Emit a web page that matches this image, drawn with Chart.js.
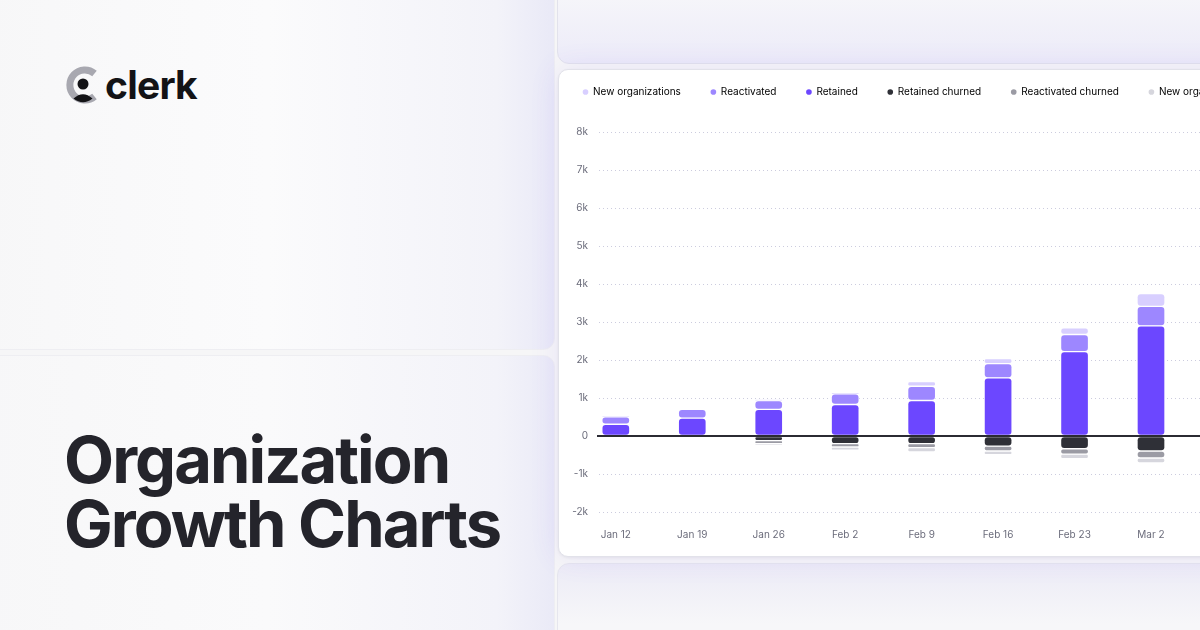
<!DOCTYPE html>
<html>
<head>
<meta charset="utf-8">
<script src="https://cdn.jsdelivr.net/npm/chart.js@4.4.1/dist/chart.umd.min.js"></script>
<style>
  html, body { margin: 0; padding: 0; }
  body {
    width: 1200px; height: 630px; overflow: hidden; position: relative;
    background: #f6f6f7; font-family: Inter, "Noto Sans", sans-serif;
  }
  .pane { position: absolute; border: 1px solid #eeeef2; border-radius: 12px; }
  .pane-a { left: -20px; top: -20px; width: 573px; height: 368px; background: linear-gradient(90deg, #f7f7f8 0%, #fbfbfc 50%, #f3f3f9 90%, #e9e9f7 100%); }
  .pane-b { left: -20px; top: 355px; width: 573px; height: 300px; background: linear-gradient(90deg, #f7f7f8 0%, #fafafb 50%, #f3f3f9 90%, #eaeaf7 100%); }
  .pane-c { left: 557px; top: -20px; width: 700px; height: 82px; background: linear-gradient(180deg, #f8f8fa 0%, #ecebf8 100%); border-color: #e2e2ec; }
  .pane-d { left: 557px; top: 563px; width: 700px; height: 100px; background: linear-gradient(180deg, #ecebf6 0%, #f7f7f9 60%); border-color: #e6e6ee; }
  .card {
    position: absolute; left: 558px; top: 69px; width: 760px; height: 486px;
    background: #fff; border: 1px solid #e2e2ea; border-radius: 10px;
    box-shadow: 0 0 30px rgba(108, 71, 255, 0.10), 0 1px 3px rgba(20, 20, 40, 0.06);
  }
  .chart-box { position: absolute; left: 553px; top: 57px; width: 900px; height: 495px; }
  .logo { position: absolute; left: 66px; top: 65px; display: flex; align-items: center; }
  .logo span { font-size: 39px; font-weight: 700; color: #131316; letter-spacing: -0.02em; margin-left: 5px; line-height: 1; }
  .title {
    position: absolute; left: 64px; top: 428px; margin: 0;
    font-size: 65px; font-weight: 700; line-height: 64px; letter-spacing: -0.03em; color: #24242b;
  }
</style>
</head>
<body>
<div class="pane pane-a"></div>
<div class="pane pane-b"></div>
<div class="pane pane-c"></div>
<div class="pane pane-d"></div>

<div class="logo">
  <svg width="34" height="38" viewBox="0 0 34 38">
    <path d="M28.5 7.5 A15 15 0 1 0 28.5 30.5" fill="none" stroke="#a8a8b0" stroke-width="7"/>
    <circle cx="17" cy="18" r="5.5" fill="#131316"/>
    <path d="M7.5 32.5 Q17 24 26.5 32.5 Q17 40 7.5 32.5 Z" fill="#131316"/>
  </svg>
  <span>clerk</span>
</div>

<h1 class="title">Organization<br>Growth Charts</h1>

<div class="card"></div>
<div class="chart-box"><canvas id="growth-chart"></canvas></div>

<script>
// semanas
const labels = ['Jan 12', 'Jan 19', 'Jan 26', 'Feb 2', 'Feb 9', 'Feb 16', 'Feb 23', 'Mar 2'];

// altas (stack positivo, de abajo hacia arriba)
const retained    = [310, 470, 700, 830, 935, 1530, 2220, 2900];
const reactivated = [195, 230, 235, 280, 375, 375, 450, 510];
const newOrgs     = [15, 0, 15, 20, 125, 130, 175, 335];

// bajas (stack negativo)
const retainedChurned    = [0, 0, -120, -200, -200, -265, -335, -395];
const reactivatedChurned = [0, 0, -80, -90, -105, -130, -140, -185];
const newOrgsChurned     = [0, 0, -25, -85, -115, -95, -120, -130];

// ticks eje y
const yTicks = [-2000, -1000, 0, 1000, 2000, 3000, 4000, 5000, 6000, 7000, 8000];

//colores
const colors = {
  retained: '#6c47ff',
  reactivated: '#9d87ff',
  newOrgs: '#d8cfff',
  retainedChurned: '#2f3037',
  reactivatedChurned: '#9b9ba4',
  newOrgsChurned: '#d6d6dd'
};

const toPoints = arr => arr.map((v, i) => ({ x: i, y: v }));

function barSet(label, data, color) {
  return {
    label: label,
    data: toPoints(data),
    backgroundColor: color,
    borderColor: '#ffffff',
    borderWidth: 1,
    borderSkipped: false,
    borderRadius: { topLeft: 4, topRight: 4, bottomLeft: 4, bottomRight: 4 },
    barThickness: 28
  };
}

const datasets = [
  barSet('Retained', retained, colors.retained),
  barSet('Reactivated', reactivated, colors.reactivated),
  barSet('New organizations', newOrgs, colors.newOrgs),
  barSet('Retained churned', retainedChurned, colors.retainedChurned),
  barSet('Reactivated churned', reactivatedChurned, colors.reactivatedChurned),
  barSet('New organizations churned', newOrgsChurned, colors.newOrgsChurned)
];

// orden de la leyenda
const legendOrder = [2, 1, 0, 3, 4, 5];

// linea del cero
const zeroLine = {
  id: 'zeroLine',
  afterDatasetsDraw(chart) {
    const y = chart.scales.y.getPixelForValue(0);
    const ctx = chart.ctx;
    ctx.save();
    ctx.strokeStyle = '#2b2b33';
    ctx.lineWidth = 2;
    ctx.beginPath();
    ctx.moveTo(chart.chartArea.left - 2, y);
    ctx.lineTo(chart.chartArea.right, y);
    ctx.stroke();
    ctx.restore();
  }
};

// espacio bajo la leyenda
const legendGap = {
  id: 'legendGap',
  beforeInit(chart) {
    const fit = chart.legend.fit;
    chart.legend.fit = function () {
      fit.bind(chart.legend)();
      this.height += 25;
    };
  }
};

const ctx = document.getElementById('growth-chart').getContext('2d');
const myChart = new Chart(ctx, {
  type: 'bar',
  data: { datasets: datasets },
  plugins: [zeroLine, legendGap],
  options: {
    responsive: true,
    maintainAspectRatio: false,
    animation: false,
    layout: { padding: 0 },
    plugins: {
      tooltip: { enabled: false },
      legend: {
        position: 'top',
        align: 'start',
        labels: {
          usePointStyle: true,
          boxWidth: 5,
          boxHeight: 4,
          padding: 30,
          color: '#5f6070',
          font: { family: 'Inter', size: 10 },
          generateLabels(chart) {
            return legendOrder.map(i => ({
              text: chart.data.datasets[i].label,
              fillStyle: chart.data.datasets[i].backgroundColor,
              strokeStyle: chart.data.datasets[i].backgroundColor,
              lineWidth: 0,
              pointStyle: 'circle',
              datasetIndex: i
            }));
          }
        }
      }
    },
    scales: {
      x: {
        type: 'linear',
        stacked: true,
        offset: false,
        min: -0.22,
        max: 10.95,
        grid: { display: false, drawTicks: false },
        border: { display: false },
        afterBuildTicks(scale) {
          scale.ticks = labels.map((_, i) => ({ value: i }));
        },
        afterFit(scale) { scale.height = 40; },
        ticks: {
          padding: 17,
          color: '#6b6c7b',
          font: { family: 'Inter', size: 10 },
          callback: value => labels[value]
        }
      },
      y: {
        stacked: true,
        min: -2000,
        max: 8000,
        afterBuildTicks(scale) {
          scale.ticks = yTicks.map(v => ({ value: v }));
        },
        afterFit(scale) { scale.width = 46; },
        grid: {
          drawTicks: false,
          color: c => c.tick && c.tick.value === 0 ? 'rgba(0,0,0,0)' : 'rgba(170, 170, 200, 0.6)',
          lineWidth: 1
        },
        border: { display: false, dash: [1, 3] },
        ticks: {
          padding: 11,
          color: '#6b6c7b',
          font: { family: 'Inter', size: 10 },
          callback: v => v === 0 ? '0' : (v / 1000) + 'k'
        }
      }
    }
  }
});
</script>
</body>
</html>
